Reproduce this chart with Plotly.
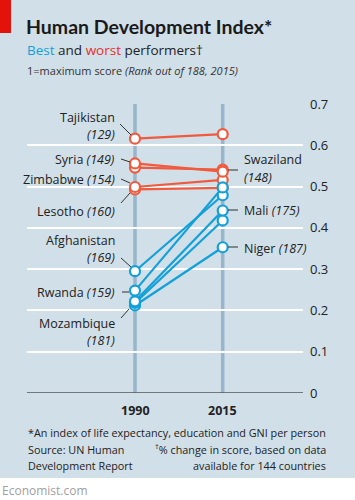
import plotly.graph_objects as go

# ---------------- data ----------------
years = [1990, 2015]
worst_countries = ["Lesotho", "Swaziland", "Zimbabwe", "Syria", "Tajikistan"]
worst_1990 = [0.493, 0.546, 0.499, 0.556, 0.616]
worst_2015 = [0.497, 0.541, 0.516, 0.536, 0.627]
worst_rank = [160, 148, 154, 149, 129]

best_countries = ["Niger", "Mozambique", "Mali", "Afghanistan", "Rwanda"]
best_1990 = [0.212, 0.218, 0.222, 0.295, 0.248]
best_2015 = [0.353, 0.418, 0.442, 0.479, 0.498]
best_rank = [187, 181, 175, 169, 159]

y_ticks = [0, 0.1, 0.2, 0.3, 0.4, 0.5, 0.6, 0.7]
y_ticklabels = ["0", "0.1", "0.2", "0.3", "0.4", "0.5", "0.6", "0.7"]

# ---------------- style ----------------
W, H = 355, 500
L, R, T, B = 27, 52, 104, 107
RED = "#f05a3e"
BLUE = "#12a0d9"
BG = "#d1dfe8"
TXT = "#222222"
FONT = "Open Sans"

pw, ph = W - L - R, H - T - B


def px(x):
    return (x - L) / pw


def py(y):
    return (H - B - y) / ph


fig = go.Figure()

for name, a, b in zip(worst_countries, worst_1990, worst_2015):
    fig.add_trace(go.Scatter(
        x=years, y=[a, b], mode="lines+markers", name=name,
        line=dict(color=RED, width=2.2),
        marker=dict(size=10, color="white", line=dict(color=RED, width=2.2)),
        hoverinfo="skip", showlegend=False, cliponaxis=False))

for name, a, b in zip(best_countries, best_1990, best_2015):
    fig.add_trace(go.Scatter(
        x=years, y=[a, b], mode="lines+markers", name=name,
        line=dict(color=BLUE, width=2.2),
        marker=dict(size=10, color="white", line=dict(color=BLUE, width=2.2)),
        hoverinfo="skip", showlegend=False, cliponaxis=False))

shapes = []
# vertical year lines
for yr in years:
    shapes.append(dict(type="line", xref="x", yref="y", x0=yr, x1=yr, y0=0, y1=0.7,
                       line=dict(color="#97b6ca", width=3.5), layer="below"))
# zero line
shapes.append(dict(type="line", xref="paper", yref="y", x0=0, x1=1, y0=0, y1=0,
                   line=dict(color="#555555", width=1.5), layer="above"))
# red corner rectangle
shapes.append(dict(type="rect", xref="paper", yref="paper", x0=px(0), x1=px(11),
                   y0=py(33), y1=py(0), fillcolor="#e3120b", line=dict(width=0)))
# white footer band
shapes.append(dict(type="rect", xref="paper", yref="paper", x0=px(0), x1=px(W),
                   y0=py(H), y1=py(478), fillcolor="white", line=dict(width=0), layer="below"))

# leader lines (pixel coords)
leaders = [
    (120, 124, 131, 135),  # Tajikistan
    (121, 159, 130, 162),  # Syria
    (121, 179, 130, 183),  # Zimbabwe
    (121, 203, 130, 193),  # Lesotho
    (121, 258, 131, 267),  # Afghanistan
    (122, 292, 129, 292),  # Rwanda
    (121, 318, 129, 309),  # Mozambique
    (228, 170, 238, 170),  # Swaziland
    (228, 210, 238, 210),  # Mali
    (228, 247, 238, 247),  # Niger
]
for x0, y0, x1, y1 in leaders:
    shapes.append(dict(type="line", xref="paper", yref="paper", x0=px(x0), y0=py(y0),
                       x1=px(x1), y1=py(y1), line=dict(color="#333333", width=1)))

rank = dict(zip(worst_countries + best_countries, worst_rank + best_rank))
ann = []


def text(x, y, s, size=12.5, anchor="right", color=TXT, family=FONT):
    ann.append(dict(xref="paper", yref="paper", x=px(x), y=py(y), text=s, showarrow=False,
                    xanchor=anchor, yanchor="middle", font=dict(size=size, color=color, family=family)))


def r(c):
    return "<i>(%d)</i>" % rank[c]


text(117, 117, "Tajikistan")
text(117, 134, r("Tajikistan"))
text(117, 159, "Syria " + r("Syria"))
text(117, 179, "Zimbabwe " + r("Zimbabwe"))
text(117, 211, "Lesotho " + r("Lesotho"))
text(117, 240, "Afghanistan")
text(117, 257, r("Afghanistan"))
text(117, 292, "Rwanda " + r("Rwanda"))
text(117, 323, "Mozambique")
text(117, 340, r("Mozambique"))
text(242, 159, "Swaziland", anchor="left")
text(242, 177, r("Swaziland"), anchor="left")
text(242, 210, "Mali " + r("Mali"), anchor="left")
text(242, 248, "Niger " + r("Niger"), anchor="left")

# titles
text(24, 27, "<b>Human Development Index*</b>", size=19.5, anchor="left", color="#1a1a1a", family="Lato")
text(25, 50, "<span style='color:%s'>Best</span> and <span style='color:%s'>worst</span> performers†" % (BLUE, "#e8302a"),
     size=13.5, anchor="left")
text(25, 70, "1=maximum score <i>(Rank out of 188, 2015)</i>", size=11, anchor="left", color="#333333")

# year labels
ann.append(dict(xref="x", yref="paper", x=1990, y=py(410), text="<b>1990</b>", showarrow=False,
                xanchor="center", yanchor="middle", font=dict(size=12.5, color=TXT, family=FONT)))
ann.append(dict(xref="x", yref="paper", x=2015, y=py(410), text="<b>2015</b>", showarrow=False,
                xanchor="center", yanchor="middle", font=dict(size=12.5, color=TXT, family=FONT)))

# footnotes
text(328, 433, "*An index of life expectancy, education and GNI per person", size=10.8)
text(26, 449, "Source: UN Human", size=10.8, anchor="left")
text(26, 465, "Development Report", size=10.8, anchor="left")
text(328, 449, "<sup>†</sup>% change in score, based on data", size=10.8)
text(328, 465, "available for 144 countries", size=10.8)
text(0, 490, "Economist.com", size=12, anchor="left", color="#a0a0a0")

x0_year = 1990 - (135 - L) / ((222.7 - 135) / 25)
x1_year = x0_year + pw / ((222.7 - 135) / 25)

fig.update_layout(
    width=W, height=H,
    margin=dict(l=L, r=R, t=T, b=B, pad=0),
    paper_bgcolor=BG, plot_bgcolor=BG,
    shapes=shapes, annotations=ann,
    font=dict(family=FONT, color=TXT),
    xaxis=dict(range=[x0_year, x1_year], showgrid=False, zeroline=False,
               showticklabels=False, ticks="", fixedrange=True),
    yaxis=dict(range=[0, 0.7], side="right", tickvals=y_ticks, ticktext=y_ticklabels,
               showgrid=True, gridcolor="white", gridwidth=1.5, zeroline=False,
               ticks="", ticklabelstandoff=6, tickfont=dict(size=13, color=TXT, family=FONT),
               fixedrange=True),
)

fig.write_html("out.html", config={"displayModeBar": False},
               post_script="document.body.style.margin='0';document.body.style.overflow='hidden';")
